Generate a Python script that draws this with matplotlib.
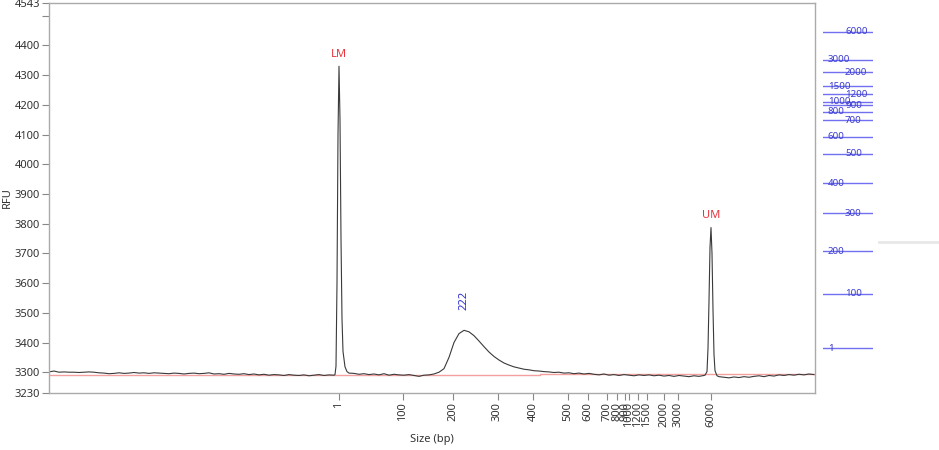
import numpy as np
import matplotlib
matplotlib.use('Agg')
import matplotlib.pyplot as plt
from matplotlib.lines import Line2D

plt.rcParams['font.family'] = ['Noto Sans', 'DejaVu Sans']

# ladder: size (bp) vs migration time
ladder_sizes = [1, 100, 200, 300, 400, 500, 600, 700, 800, 900, 1000, 1200, 1500, 2000, 3000, 6000]
ladder_times = [29.0, 35.4, 40.4, 44.85, 48.4, 51.85, 53.85, 55.8, 56.8, 57.55, 58.0, 58.85, 59.8, 61.45, 62.9, 66.2]

# trace
t_left = np.arange(0, 28.51, 0.5)
rfu_left = [3301, 3304, 3300, 3301, 3300, 3300, 3299, 3300, 3301, 3300,
            3298, 3297, 3295, 3296, 3298, 3296, 3297, 3299, 3297, 3298,
            3296, 3298, 3297, 3296, 3295, 3297, 3296, 3294, 3296, 3297,
            3295, 3296, 3298, 3294, 3295, 3293, 3296, 3294, 3293, 3295,
            3292, 3294, 3291, 3293, 3290, 3292, 3291, 3289, 3292, 3290,
            3289, 3291, 3288, 3290, 3292, 3289, 3291, 3290]
t_lm = [28.6, 28.7, 28.8, 28.9, 29.0, 29.1, 29.2, 29.3, 29.4, 29.6, 29.8, 30.0]
rfu_lm = [3292, 3320, 3600, 4100, 4330, 4150, 3750, 3480, 3370, 3318, 3302, 3297]
t_mid = np.arange(30.5, 65.51, 0.5)
rfu_mid = [3296, 3293, 3295, 3292, 3294, 3291, 3295, 3290, 3293, 3291,
           3290, 3292, 3289, 3286, 3290, 3291, 3294,
           3300, 3312, 3350, 3400, 3430, 3441, 3436, 3423, 3405, 3386,
           3368, 3353, 3341, 3331, 3324, 3318, 3314, 3310, 3308, 3305,
           3304, 3302, 3301,
           3299, 3300, 3297, 3298, 3295, 3297, 3294, 3296, 3293, 3291,
           3294, 3290, 3292, 3289, 3292, 3290, 3288, 3291, 3289, 3291,
           3288, 3290, 3287, 3289, 3286, 3289, 3287, 3285, 3288, 3286, 3289]
t_um = [65.6, 65.8, 65.9, 66.0, 66.1, 66.2, 66.3, 66.4, 66.5, 66.6, 66.8]
rfu_um = [3290, 3302, 3380, 3540, 3720, 3787, 3700, 3510, 3360, 3305, 3288]
t_right = np.arange(67.0, 76.51, 0.5)
rfu_right = [3285, 3283, 3281, 3284, 3282, 3285, 3283, 3286, 3288, 3285,
             3289, 3287, 3291, 3289, 3292, 3290, 3293, 3291, 3294, 3292]

trace_t = np.concatenate([t_left, t_lm, t_mid, t_um, t_right])
trace_rfu = np.concatenate([rfu_left, rfu_lm, rfu_mid, rfu_um, rfu_right])

# baseline (two pieces)
base_t = [0.0, 49.1, 49.1, 76.6]
base_rfu = [3291, 3291, 3295, 3295]

markers = [('LM', 29.0, 4371), ('UM', 66.2, 3827)]
peak_size = 222
peak_t = 41.5
peak_label_y = 3540

y_ticks = [3230, 3300, 3400, 3500, 3600, 3700, 3800, 3900, 4000, 4100, 4200, 4300, 4400, 4500, 4543]
y_ticklabels = [str(v) if v != 4500 else '' for v in y_ticks]

fig = plt.figure(figsize=(9.39, 4.5), dpi=100)
ax = fig.add_axes([49 / 939, 1 - 393 / 450, (815 - 49) / 939, 390 / 450])

ax.plot(base_t, base_rfu, color='#f4a0a0', lw=1.0, zorder=1)
ax.plot(trace_t, trace_rfu, color='#3a3a3a', lw=0.8, zorder=2)

for name, xt, yv in markers:
    ax.text(xt, yv, name, color='#e8343c', fontsize=8, ha='center', va='center')
ax.text(peak_t, peak_label_y, str(peak_size), color='#2c2cd0', fontsize=8,
        rotation=90, ha='center', va='center')

ax.set_xlim(0, 76.6)
ax.set_ylim(3230, 4543)
ax.set_yticks(y_ticks)
ax.set_yticklabels(y_ticklabels)
ax.set_xticks(ladder_times)
ax.set_xticklabels([str(s) for s in ladder_sizes], rotation=90, va='top', ha='center')
ax.tick_params(axis='both', labelsize=8, labelcolor='#333333', color='#888888',
               length=5, width=0.8, pad=1.5)
for sp in ax.spines.values():
    sp.set_color('#aaaaaa')
    sp.set_linewidth(1.0)
ax.set_ylabel('RFU', fontsize=8, color='#333333')
ax.yaxis.set_label_coords(-0.047, 0.5)
ax.set_xlabel('Size (bp)', fontsize=8, color='#333333', labelpad=5)

# ladder panel on the right
lad = fig.add_axes([823 / 939, 1 - 393 / 450, 50 / 939, 390 / 450])
lad.set_xlim(0, 1)
lad.set_ylim(23.71, 69.59)
lad.axis('off')
for i, (s, tt) in enumerate(zip(ladder_sizes, ladder_times)):
    lad.plot([0, 1], [tt, tt], color='#7070f0', lw=1.0)
    xl = 0.1 if i % 2 == 0 else 0.44
    lad.text(xl, tt, str(s), color='#3b3bd0', fontsize=7, ha='left', va='center')

fig.add_artist(Line2D([879 / 939, 1.0], [1 - 242 / 450] * 2, color='#e8e8e8', lw=2))

fig.savefig('out.png', dpi=100)
